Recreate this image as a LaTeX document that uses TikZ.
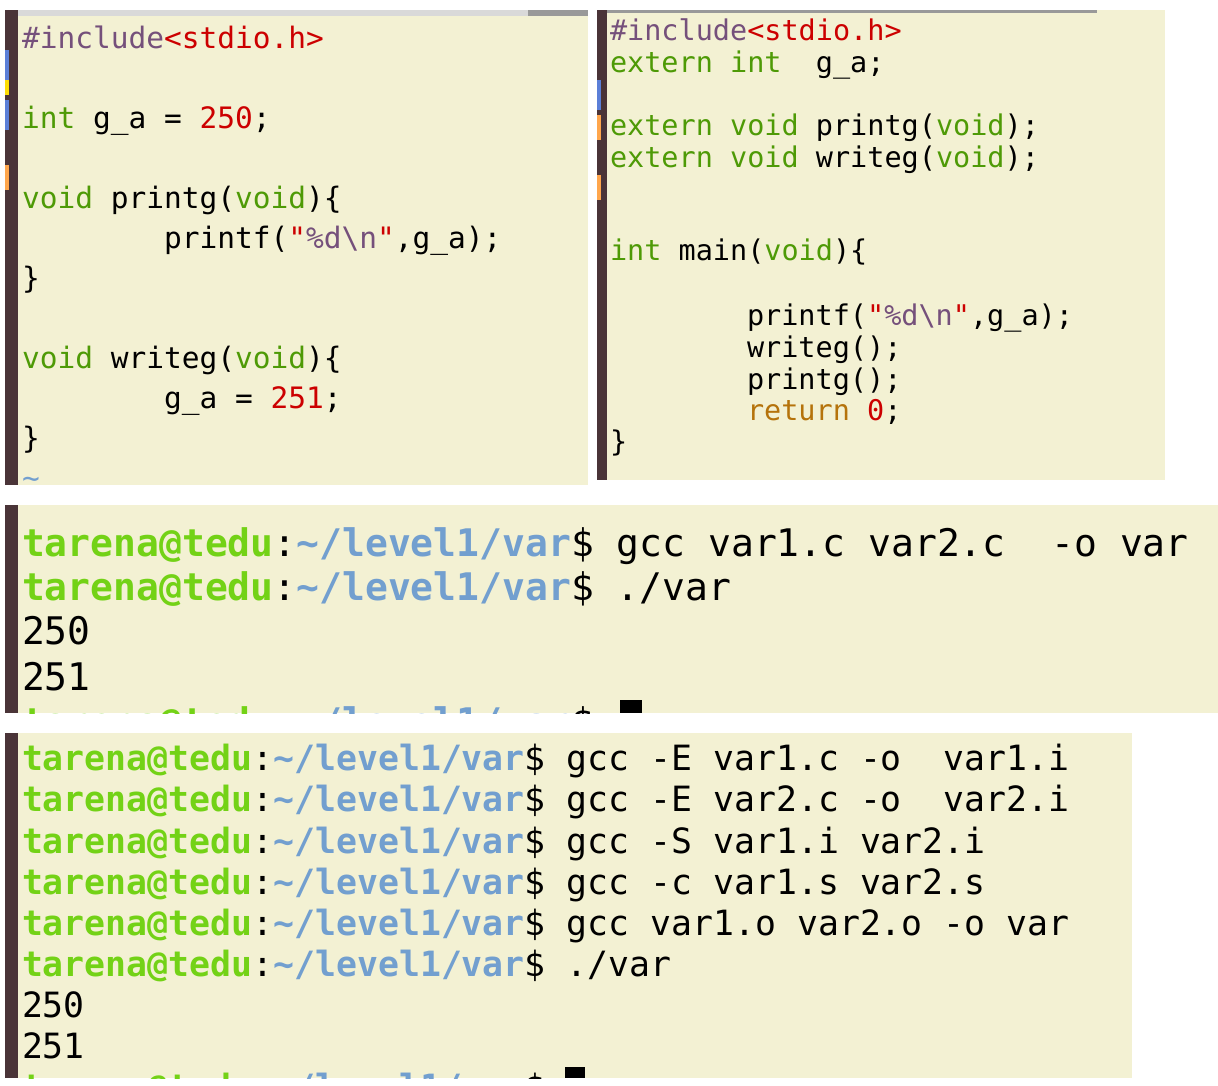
\documentclass[tikz,border=0pt]{standalone}
\usepackage{fontspec}
\newfontfamily\mono{DejaVu Sans Mono}
\definecolor{bg}{HTML}{F3F1D3}
\definecolor{bar}{HTML}{4A3438}
\definecolor{kw}{HTML}{4E9A06}
\definecolor{pp}{HTML}{75507B}
\definecolor{rd}{HTML}{CC0000}
\definecolor{br}{HTML}{B5730B}
\definecolor{tg}{HTML}{73D216}
\definecolor{tb}{HTML}{729FCF}
\newcommand{\K}[1]{\textcolor{kw}{#1}}
\newcommand{\PP}[1]{\textcolor{pp}{#1}}
\newcommand{\R}[1]{\textcolor{rd}{#1}}
\newcommand{\PR}{\textbf{\textcolor{tg}{tarena@tedu}}:\textbf{\textcolor{tb}{\textasciitilde/level1/var}}\$}
\newcommand{\STR}{\R{"}\PP{\%d\textbackslash n}\R{"}}
\begin{document}
\begin{tikzpicture}[x=1pt,y=-1pt,
  ln/.style={anchor=base west,inner sep=0pt,outer sep=0pt},
  fa/.style={ln,font=\mono\fontsize{29.5}{30}\selectfont},
  fb/.style={ln,font=\mono\fontsize{28.5}{30}\selectfont},
  fc/.style={ln,font=\mono\fontsize{38}{40}\selectfont},
  fd/.style={ln,font=\mono\fontsize{34.8}{36}\selectfont}]
\useasboundingbox (0,0) rectangle (1218,1085);
\fill[white] (0,0) rectangle (1218,1085);
% panel A
\fill[bg] (5,10) rectangle (588,485);
\fill[black!15] (18,10) rectangle (588,16);
\fill[black!40] (528,10) rectangle (588,16);
\fill[bar] (5,10) rectangle (18,485);
\fill[tb!80!blue] (5,50) rectangle (9,80);
\fill[yellow!80!orange] (5,80) rectangle (9,95);
\fill[tb!80!blue] (5,100) rectangle (9,130);
\fill[orange!70] (5,165) rectangle (9,190);
\node[fa] (a1) at (22,48) {\PP{\#include}\R{<stdio.h>}};
\node[fa] (a2) at (22,128) {\K{int} g\_a = \R{250};};
\node[fa] (a3) at (22,208) {\K{void} printg(\K{void})\{};
\node[fa] (a4) at (164,248) {printf(\STR,g\_a);};
\node[fa] (a5) at (22,288) {\}};
\node[fa] (a6) at (22,368) {\K{void} writeg(\K{void})\{};
\node[fa] (a7) at (164,408) {g\_a = \R{251};};
\node[fa] (a8) at (22,448) {\}};
\node[fa,text=tb] (a9) at (22,488) {\textasciitilde};
% panel B
\fill[bg] (597,10) rectangle (1165,480);
\fill[black!40] (607,10) rectangle (1097,13);
\fill[bar] (597,10) rectangle (607,480);
\fill[tb!80!blue] (597,80) rectangle (601,110);
\fill[orange!70] (597,115) rectangle (601,140);
\fill[orange!70] (597,175) rectangle (601,200);
\node[fb] (b1) at (610,40) {\PP{\#include}\R{<stdio.h>}};
\node[fb] (b2) at (610,72) {\K{extern} \K{int}\ \ g\_a;};
\node[fb] (b3) at (610,135) {\K{extern} \K{void} printg(\K{void});};
\node[fb] (b4) at (610,167) {\K{extern} \K{void} writeg(\K{void});};
\node[fb] (b5) at (610,260) {\K{int} main(\K{void})\{};
\node[fb] (b6) at (747,325) {printf(\STR,g\_a);};
\node[fb] (b7) at (747,357) {writeg();};
\node[fb] (b8) at (747,389) {printg();};
\node[fb] (b9) at (747,420) {\textcolor{br}{return} \R{0};};
\node[fb] (b10) at (610,451) {\}};
% panel C
\fill[bg] (5,505) rectangle (1218,713);
\fill[bar] (5,505) rectangle (18,713);
\begin{scope}
\clip (5,505) rectangle (1218,713);
\node[fc] (c1) at (22,556) {\PR{} gcc var1.c var2.c\ \ -o var};
\node[fc] (c2) at (22,600) {\PR{} ./var};
\node[fc] (c3) at (22,644) {250};
\node[fc] (c4) at (22,690) {251};
\node[fc] (c5) at (22,735) {\PR{} };
\end{scope}
\fill[black] (620,700) rectangle (642,713);
% panel D
\fill[bg] (5,733) rectangle (1132,1078);
\fill[bar] (5,733) rectangle (18,1078);
\begin{scope}
\clip (5,733) rectangle (1132,1078);
\node[fd] (d1) at (22,770) {\PR{} gcc -E var1.c -o\ \ var1.i};
\node[fd] (d2) at (22,811) {\PR{} gcc -E var2.c -o\ \ var2.i};
\node[fd] (d3) at (22,853) {\PR{} gcc -S var1.i var2.i};
\node[fd] (d4) at (22,894) {\PR{} gcc -c var1.s var2.s};
\node[fd] (d5) at (22,935) {\PR{} gcc var1.o var2.o -o var};
\node[fd] (d6) at (22,976) {\PR{} ./var};
\node[fd] (d7) at (22,1017) {250};
\node[fd] (d8) at (22,1058) {251};
\node[fd] (d9) at (22,1099) {\PR{} };
\end{scope}
\fill[black] (565,1067) rectangle (585,1078);
\end{tikzpicture}
\end{document}
